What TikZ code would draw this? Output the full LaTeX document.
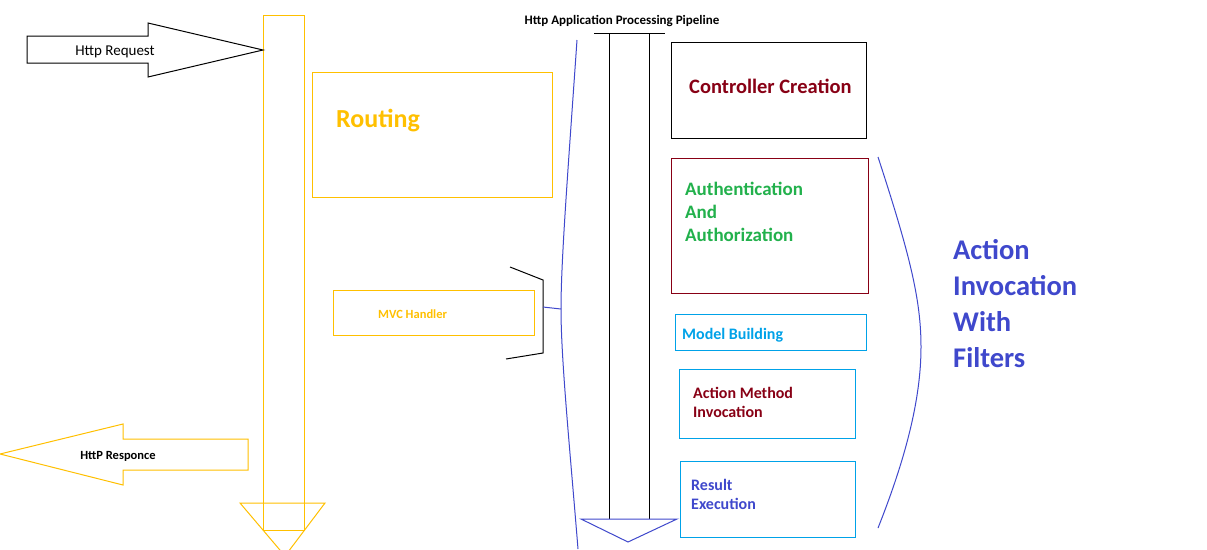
\documentclass[tikz,border=0pt]{standalone}
\usepackage{fontspec}
\setmainfont{Carlito}
\definecolor{gold}{HTML}{FFC000}
\definecolor{pblue}{HTML}{3F48CC}
\definecolor{lblue}{HTML}{00A2E8}
\definecolor{dred}{HTML}{880015}
\definecolor{pgreen}{HTML}{22B14C}
\tikzset{
  box/.style={draw, rectangle, line width=1pt, inner sep=0pt, outer sep=0pt},
  lbl/.style={anchor=west, inner sep=0pt, font=\bfseries, align=left},
  ln/.style={line width=1pt},
}
\begin{document}
\begin{tikzpicture}[x=1pt,y=-1pt]
\useasboundingbox (0,0) rectangle (1207,549);
\clip (0,0) rectangle (1207,549);
\fill[white] (0,0) rectangle (1207,549);

% yellow column
\node[box, draw=gold, minimum width=41pt, minimum height=515pt] (col) at (283.5,272.5) {};
\coordinate (colbl) at (240,503);
\coordinate (colbr) at (325,503);
\coordinate (coltip) at (285,556);
\draw[ln, gold] (colbl) -- (colbr) -- (coltip) -- cycle;

% Http Request arrow
\coordinate (reqtip) at (263,50);
\draw[ln, black] (27,36) -- (148,36) -- (148,23) -- (reqtip) -- (148,77) -- (148,63) -- (27,63) -- cycle;
\node[inner sep=0pt, font=\fontsize{15}{18}\selectfont] (reqtxt) at (115,52) {Http Request};

% HttP Responce arrow
\coordinate (restip) at (0,454);
\draw[ln, gold] (248,439) -- (123,439) -- (123,424) -- (restip) -- (123,485) -- (123,470) -- (248,470) -- cycle;
\node[inner sep=0pt, font=\bfseries\fontsize{12.5}{15}\selectfont] (restxt) at (118,456) {HttP Responce};

% Routing
\node[box, draw=gold, minimum width=240pt, minimum height=125pt] (routing) at (432,134.5) {};
\node[lbl, text=gold, font=\bfseries\fontsize{26}{30}\selectfont] (routingtxt) at (336,121) {Routing};

% MVC Handler
\node[box, draw=gold, minimum width=201pt, minimum height=45pt] (mvc) at (433.5,312.5) {};
\node[lbl, text=gold, font=\bfseries\fontsize{12.5}{15}\selectfont] (mvctxt) at (378,314) {MVC Handler};

% bracket
\coordinate (bt0) at (510,267);
\coordinate (bt1) at (543,280);
\coordinate (bm) at (543,307);
\coordinate (bb1) at (543,353);
\coordinate (bb0) at (506,359);
\draw[ln, black] (bt0) -- (bt1) -- (bb1) -- (bb0);

% left blue curve
\coordinate (lc0) at (577,40);
\coordinate (lcm) at (561,309);
\coordinate (lc1) at (578,549);
\draw[ln, pblue] (lc0) .. controls (568,170) and (561,260) .. (lcm) .. controls (561,360) and (570,450) .. (lc1);
\draw[ln, pblue] (bm) -- (lcm);

% title
\node[inner sep=0pt, font=\bfseries\fontsize{13}{15}\selectfont] (title) at (622,21) {Http Application Processing Pipeline};

% pipeline
\coordinate (pt0) at (594,33);
\coordinate (pt1) at (665,33);
\coordinate (pl0) at (609,33);
\coordinate (pl1) at (609,519);
\coordinate (pr0) at (649,33);
\coordinate (pr1) at (649,519);
\draw[ln, black] (pt0) -- (pt1);
\draw[ln, black] (pl0) -- (pl1);
\draw[ln, black] (pr0) -- (pr1);
\coordinate (ptl) at (581,519);
\coordinate (ptr) at (677,519);
\coordinate (ptip) at (628,542);
\draw[ln, pblue] (ptl) -- (ptr) -- (ptip) -- cycle;

% stages
\node[box, draw=black, minimum width=195pt, minimum height=96pt] (ctrl) at (768.5,90) {};
\node[lbl, text=dred, font=\bfseries\fontsize{20.5}{24}\selectfont] (ctrltxt) at (689,86.5) {Controller Creation};

\node[box, draw=dred, minimum width=197pt, minimum height=135pt] (auth) at (769.5,225.5) {};
\node[lbl, text=pgreen, font=\bfseries\fontsize{19}{23}\selectfont, anchor=north west] (authtxt) at (685,182) {Authentication\\And\\Authorization};

\node[box, draw=lblue, minimum width=191pt, minimum height=36pt] (model) at (770.5,332) {};
\node[lbl, text=lblue, font=\bfseries\fontsize{16}{19}\selectfont] (modeltxt) at (682,335) {Model Building};

\node[box, draw=lblue, minimum width=176pt, minimum height=69pt] (action) at (767,403.5) {};
\node[lbl, text=dred, font=\bfseries\fontsize{16}{19}\selectfont, anchor=north west] (actiontxt) at (693,387) {Action Method\\Invocation};

\node[box, draw=lblue, minimum width=175pt, minimum height=76pt] (result) at (767.5,499) {};
\node[lbl, text=pblue, font=\bfseries\fontsize{16}{19}\selectfont, anchor=north west] (resulttxt) at (691,479) {Result\\Execution};

% right curve
\coordinate (rc0) at (878,157);
\coordinate (rcm) at (921,347);
\coordinate (rc1) at (878,528);
\draw[ln, pblue] (rc0) .. controls (910,255) and (921,300) .. (rcm) .. controls (921,400) and (905,460) .. (rc1);

\node[lbl, text=pblue, font=\bfseries\fontsize{28.5}{36}\selectfont, anchor=north west] (aiwf) at (953,239) {Action\\Invocation\\With\\Filters};
\end{tikzpicture}
\end{document}
